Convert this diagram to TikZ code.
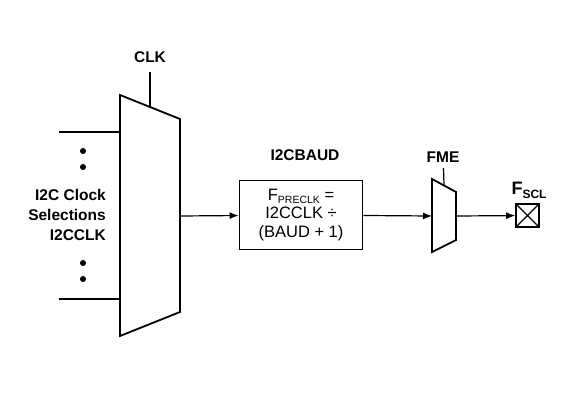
\documentclass[tikz,border=0pt]{standalone}
\usepackage{fontspec}
\setmainfont{Liberation Sans}
\usetikzlibrary{shapes,arrows,arrows.meta}
\usetikzlibrary{positioning}
\tikzstyle{block} = [rectangle, draw, line width=1.8pt, minimum width=123pt, 
minimum height=69pt, text centered, align=center, font=\fontsize{16.5}{18.5}\selectfont]
\tikzstyle{line} = [draw, line width=1.2pt, -{Latex[length=9pt,width=7pt]}]
\tikzstyle{wire} = [draw, line width=1.2pt]
\tikzstyle{mux} = [draw, line width=1.8pt, line join=miter]
\tikzstyle{lbl} = [font=\fontsize{15.5}{20}\selectfont\bfseries, inner sep=0pt]
\tikzstyle{dot} = [circle, fill, inner sep=0pt, minimum size=6pt]
\tikzstyle{pad} = [rectangle, draw, line width=1.8pt, minimum size=23pt, inner sep=0pt,
path picture={\draw[line width=1.3pt] (path picture bounding box.north west) -- (path picture bounding box.south east)
(path picture bounding box.north east) -- (path picture bounding box.south west);}]
\newcommand{\lowtext}[1]{\raisebox{-3pt}{\fontsize{10.5}{10.5}\selectfont #1}}

\begin{document}
\begin{tikzpicture}[x=1pt, y=-1pt]
	\useasboundingbox (0,0) rectangle (585,405);
	
	% clock selection mux
	\draw [mux] (120,95) -- (180,119) -- (180,312) -- (120,336) -- cycle;
	\coordinate (selout) at (180,216);
	\coordinate (selctl) at (150,107);
	\coordinate (selin1) at (120,132);
	\coordinate (selin2) at (120,299);
	\coordinate (src1) at (59,132);
	\coordinate (src2) at (59,299);
	\node [lbl] (clk) at (150,57) {CLK};
	\coordinate (clktop) at (150,72);
	\node [lbl, align=right, anchor=east] (sel) at (106,215) {I2C Clock\\Selections\\I2CCLK};
	\node [dot] (d1) at (83,151) {};
	\node [dot] (d2) at (83,167) {};
	\node [dot] (d3) at (83,263) {};
	\node [dot] (d4) at (83,279) {};
	
	% prescaler
	\node [block] (baud) at (301,215) {F\lowtext{PRECLK} =\\I2CCLK \raisebox{0.5pt}{÷}\\(BAUD + 1)};
	\node [lbl] (baudlbl) at (305,155) {I2CBAUD};
	
	% fast mode mux
	\draw [mux] (432,179) -- (456,192) -- (456,240) -- (432,252) -- cycle;
	\coordinate (fmein) at (432,216);
	\coordinate (fmeout) at (456,216);
	\coordinate (fmectl) at (444,185.5);
	\node [lbl] (fme) at (443,157) {FME};
	\coordinate (fmetop) at (443.5,168);
	
	% output pin
	\node [pad] (scl) at (527.5,215.5) {};
	\node [lbl, font=\fontsize{18}{20}\selectfont\bfseries, anchor=south] (sclname) at (529,199)
	{F\raisebox{-4pt}{\fontsize{12}{12}\selectfont SCL}};
	
	% Draw edges
	\path [wire] (src1) -- (selin1);
	\path [wire] (src2) -- (selin2);
	\path [wire] (clktop) -- (selctl);
	\path [wire] (fmetop) -- (fmectl);
	\path [line] (selout) -- (baud);
	\path [line] (baud) -- (fmein);
	\path [line] (fmeout) -- (scl);
	
\end{tikzpicture}
\end{document}
